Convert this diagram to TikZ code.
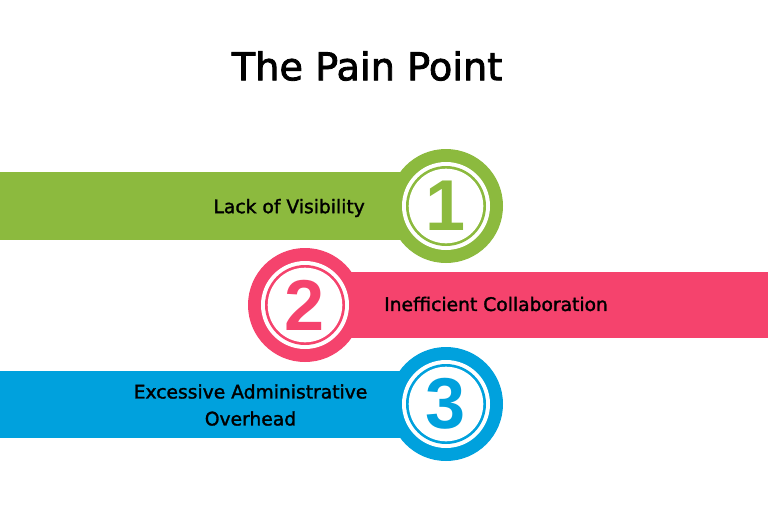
\documentclass[tikz,border=0pt]{standalone}
\usepackage{fontspec}
\setmainfont{DejaVu Sans}
\newfontfamily\medfont{DejaVu Sans}[FakeBold=1.6]
\newfontfamily\titlefont{DejaVu Sans}[FakeBold=2.2]
\newfontfamily\digitfont{Liberation Sans}[BoldFont={Liberation Sans Bold}]
\definecolor{cgreen}{HTML}{8CBA3E}
\definecolor{cpink}{HTML}{F5436D}
\definecolor{cblue}{HTML}{00A1DD}
\tikzset{
  band/.style={fill=#1, draw=none},
  label/.style={font=\medfont\fontsize{18.7}{27}\selectfont, text=black, inner sep=0pt},
  digit/.style={font=\digitfont\bfseries\fontsize{72}{72}\selectfont, text=#1, inner sep=0pt},
}
\newcommand{\badge}[3]{%
  \fill[#2] (#1) circle (57);
  \fill[white] (#1) circle (44);
  \fill[#2] (#1) circle (40);
  \fill[white] (#1) circle (37.3);
  \node[digit=#2] at (#1) {#3};
}
\begin{document}
\begin{tikzpicture}[x=1pt,y=-1pt]
\useasboundingbox (0,0) rectangle (768,512);
\fill[white] (0,0) rectangle (768,512);
\node[font=\titlefont\fontsize{38.3}{40}\selectfont, inner sep=0pt] (title) at (367,66) {The Pain Point};
% bands
\coordinate (c1) at (446,206);
\coordinate (c2) at (305,305);
\coordinate (c3) at (446,404);
\fill[band=cgreen] (0,172) rectangle (446,240);
\fill[band=cpink] (305,272) rectangle (768,338);
\fill[band=cblue] (0,371) rectangle (446,438);
\badge{c1}{cgreen}{1}
\badge{c2}{cpink}{2}
\badge{c3}{cblue}{3}
\node[label, anchor=east] (t1) at (365,208) {Lack of Visibility};
\node[label, anchor=west] (t2) at (384,304) {Inefficient Collaboration};
\node[label, align=center] (t3) at (250.5,405) {Excessive Administrative\\Overhead};
\end{tikzpicture}
\end{document}
